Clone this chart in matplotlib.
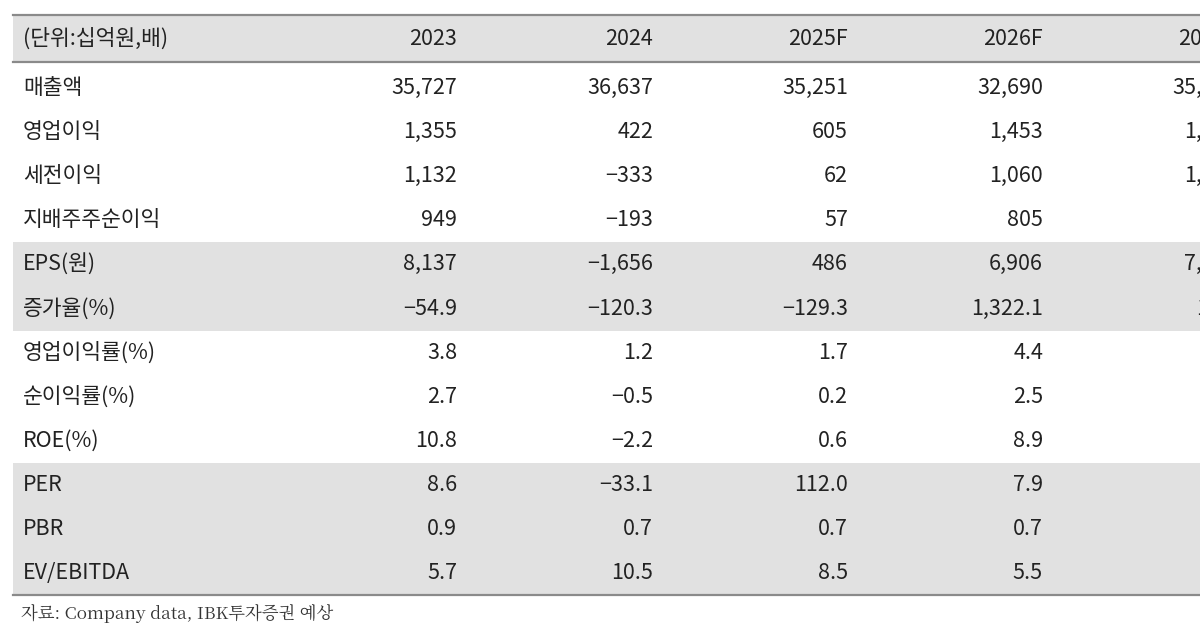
import matplotlib.pyplot as plt
from matplotlib.patches import Rectangle

plt.rcParams['font.family'] = ['Noto Sans CJK KR', 'DejaVu Sans']

header = ['(단위:십억원,배)', '2023', '2024', '2025F', '2026F', '2027F']
labels = ['매출액', '영업이익', '세전이익', '지배주주순이익', 'EPS(원)', '증가율(%)',
          '영업이익률(%)', '순이익률(%)', 'ROE(%)', 'PER', 'PBR', 'EV/EBITDA']
y2023 = ['35,727', '1,355', '1,132', '949', '8,137', '−54.9', '3.8', '2.7', '10.8', '8.6', '0.9', '5.7']
y2024 = ['36,637', '422', '−333', '−193', '−1,656', '−120.3', '1.2', '−0.5', '−2.2', '−33.1', '0.7', '10.5']
y2025 = ['35,251', '605', '62', '57', '486', '−129.3', '1.7', '0.2', '0.6', '112.0', '0.7', '8.5']
y2026 = ['32,690', '1,453', '1,060', '805', '6,906', '1,322.1', '4.4', '2.5', '8.9', '7.9', '0.7', '5.5']
y2027 = ['35,412', '1,598', '1,281', '967', '7,987', '15.7', '4.5', '2.7', '9.8', '7.4', '0.7', '5.3']
shaded_rows = [4, 5, 9, 10, 11]

fig = plt.figure(figsize=(12, 6.3), dpi=100)
ax = fig.add_axes([0, 0, 1, 1])
ax.set_xlim(0, 1200)
ax.set_ylim(630, 0)
ax.axis('off')

left = 13
row_y0 = 66
row_h = 44.1
col_right = [457, 653, 848, 1043, 1238]
gray = '#e1e1e1'
fs = 15.5
tc = '#222222'

# header band
ax.add_patch(Rectangle((left, 15), 1200 - left, 47, color=gray, lw=0))
for i, r in enumerate(shaded_rows):
    ax.add_patch(Rectangle((left, row_y0 + r * row_h), 1200 - left, row_h, color=gray, lw=0))
for yy in [15, 62, row_y0 + 12 * row_h]:
    ax.plot([left, 1200], [yy, yy], color='#8a8a8a', lw=1.6)

ax.text(left + 10, 39, header[0], fontsize=fs, color=tc, va='center', ha='left')
for h, xr in zip(header[1:], col_right):
    ax.text(xr, 39, h, fontsize=fs, color=tc, va='center', ha='right')

cols = [y2023, y2024, y2025, y2026, y2027]
for i, lab in enumerate(labels):
    yc = row_y0 + (i + 0.5) * row_h
    ax.text(left + 10, yc, lab, fontsize=fs, color=tc, va='center', ha='left')
    for vals, xr in zip(cols, col_right):
        ax.text(xr, yc, vals[i], fontsize=fs, color=tc, va='center', ha='right')

ax.text(left + 8, 613, '자료: Company data, IBK투자증권 예상', fontsize=12.5,
        color='#333333', va='center', ha='left', family=['Noto Serif CJK KR', 'Noto Sans CJK KR', 'DejaVu Serif'])

fig.savefig('out.png', dpi=100)
